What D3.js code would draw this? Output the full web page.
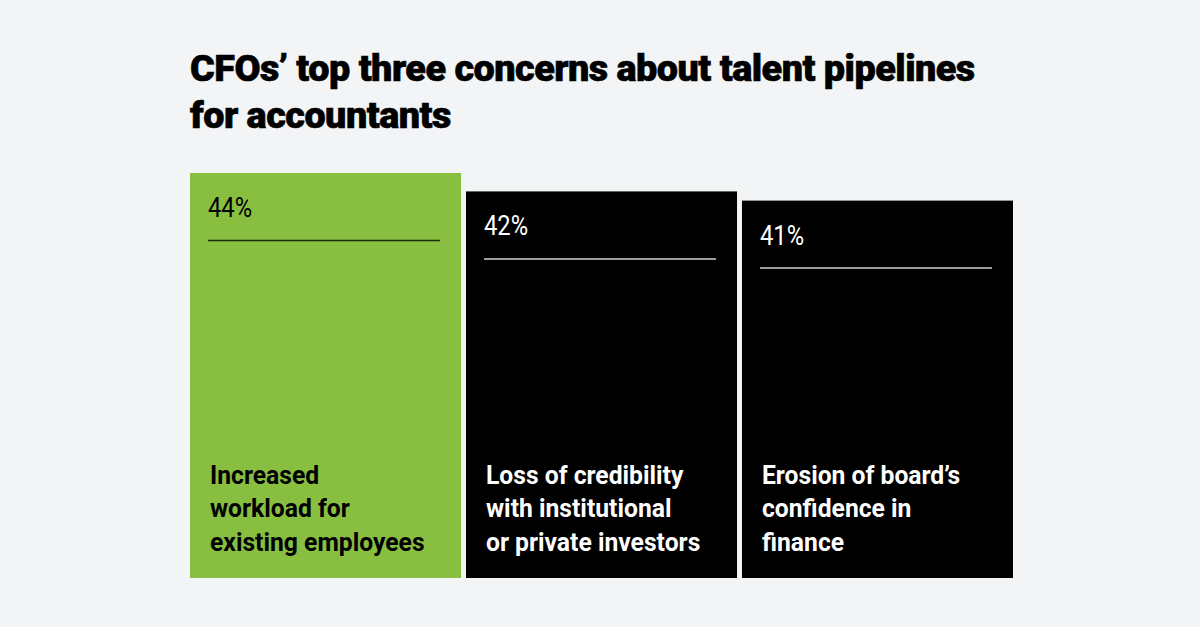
<!DOCTYPE html>
<html>
<head>
<meta charset="utf-8">
<script src="https://cdn.jsdelivr.net/npm/d3@7"></script>
<style>
  html, body { margin: 0; padding: 0; background: #f3f4f6; }
  svg { display: block; }
</style>
</head>
<body>
<svg id="chart" width="1200" height="627"></svg>
<script>
const titleLines = ["CFOs\u2019 top three concerns about talent pipelines", "for accountants"];
const categories = ["workload", "credibility", "board"];
const values = [44, 42, 41];
const categoryLabels = [
  ["Increased", "workload for", "existing employees"],
  ["Loss of credibility", "with institutional", "or private investors"],
  ["Erosion of board\u2019s", "confidence in", "finance"]
];
const barColors = ["#88bf41", "#000000", "#000000"];
const textColors = ["#000000", "#ffffff", "#ffffff"];
const ruleColors = ["#1d2a10", "#d0d0d0", "#d0d0d0"];

const FONT = "Roboto, 'Noto Sans', sans-serif";
const svg = d3.select("#chart");
svg.append("rect").attr("width", 1200).attr("height", 627).attr("fill", "#f3f4f6");

function condense(sel, x0, k) {
  sel.attr("transform", `translate(${x0},0) scale(${k},1) translate(${-x0},0)`);
}

// Title
const title = svg.append("text")
  .attr("font-family", FONT)
  .attr("font-weight", 900)
  .attr("font-size", 37)
  .attr("letter-spacing", -0.5)
  .attr("stroke", "#000")
  .attr("stroke-width", 0.6)
  .attr("fill", "#000");
titleLines.forEach((t, i) => {
  title.append("tspan").attr("x", 190).attr("y", 81 + i * 47).text(t);
});
const tw = title.select("tspan").node().getComputedTextLength();
condense(title, 190, 785 / tw);

const x = d3.scaleBand().domain(categories).range([190, 1013]).paddingInner(0.018);
const y = d3.scaleLinear().domain([0, 44]).range([578, 173]);

const data = categories.map((c, i) => ({ c, v: values[i], lines: categoryLabels[i], i }));

const g = svg.append("g").selectAll("g").data(data).join("g");

g.append("rect")
  .attr("x", d => x(d.c))
  .attr("y", d => y(d.v))
  .attr("width", x.bandwidth())
  .attr("height", d => y(0) - y(d.v))
  .attr("fill", d => barColors[d.i]);

g.append("text")
  .attr("x", d => x(d.c) + 18)
  .attr("y", d => y(d.v) + 44)
  .attr("font-family", FONT)
  .attr("font-weight", 400)
  .attr("font-size", 27)
  .attr("fill", d => textColors[d.i])
  .text(d => d.v + "%")
  .each(function(d) { condense(d3.select(this), x(d.c) + 18, 0.88); });

g.append("line")
  .attr("x1", d => x(d.c) + 18)
  .attr("x2", d => x(d.c) + 250)
  .attr("y1", d => y(d.v) + 67.5)
  .attr("y2", d => y(d.v) + 67.5)
  .attr("stroke", d => ruleColors[d.i])
  .attr("stroke-width", 1.5);

g.each(function(d) {
  const t = d3.select(this).append("text")
    .attr("font-family", FONT)
    .attr("font-weight", 700)
    .attr("font-size", 26)
    .attr("fill", textColors[d.i]);
  const n = d.lines.length;
  d.lines.forEach((line, k) => {
    t.append("tspan")
      .attr("x", x(d.c) + 20)
      .attr("y", y(0) - 27 - (n - 1 - k) * 33.5)
      .text(line);
  });
  condense(t, x(d.c) + 20, 0.95);
});
</script>
</body>
</html>
